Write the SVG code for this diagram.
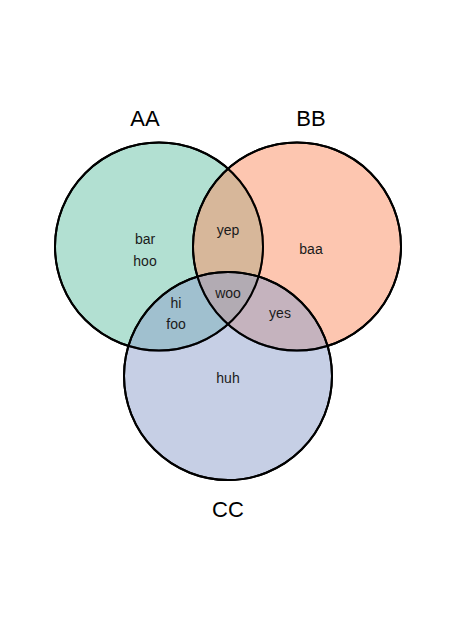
<svg xmlns="http://www.w3.org/2000/svg" width="457" height="624" viewBox="0 0 457 624">
<style>
.set{stroke:#000;stroke-width:2;fill-opacity:0.5}
.lbl{font-family:"Liberation Sans",Arial,sans-serif;font-size:22px;fill:#000;text-anchor:middle}
.t{font-family:"Liberation Sans",Arial,sans-serif;font-size:14px;fill:#1a1a1a;text-anchor:middle}
</style>
<rect width="457" height="624" fill="#fff"/>
<g id="AA"><circle class="set" cx="159" cy="246.5" r="104" fill="#66C2A5"/></g>
<g id="BB"><circle class="set" cx="297" cy="246.5" r="104" fill="#FC8D62"/></g>
<g id="CC"><circle class="set" cx="228" cy="376" r="104" fill="#8DA0CB"/></g>
<g id="outlines" fill="none" stroke="#000" stroke-width="2">
<circle cx="159" cy="246.5" r="104"/>
<circle cx="297" cy="246.5" r="104"/>
<circle cx="228" cy="376" r="104"/>
</g>
<g id="labels">
<text class="lbl" x="145" y="126">AA</text>
<text class="lbl" x="311" y="126">BB</text>
<text class="lbl" x="228" y="517">CC</text>
</g>
<g id="regions">
<text class="t" x="145" y="244">bar</text>
<text class="t" x="145" y="265.5">hoo</text>
<text class="t" x="228" y="235">yep</text>
<text class="t" x="311" y="254">baa</text>
<text class="t" x="228" y="298">woo</text>
<text class="t" x="176" y="307.5">hi</text>
<text class="t" x="176" y="329">foo</text>
<text class="t" x="280" y="318">yes</text>
<text class="t" x="228" y="383">huh</text>
</g>
</svg>
